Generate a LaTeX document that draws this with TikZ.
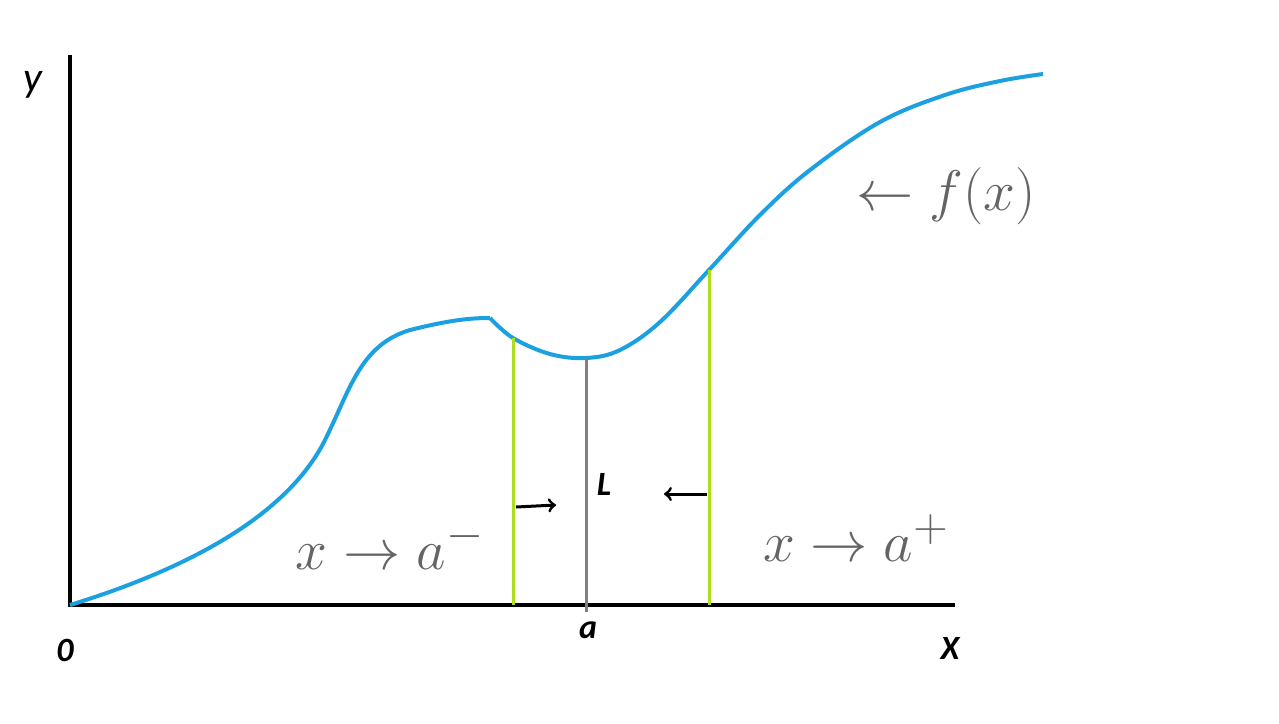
\documentclass[tikz,border=0pt]{standalone}
\usepackage{amsmath}
\usepackage{fontspec}
\newfontfamily\calibri{Carlito}
\usetikzlibrary{positioning}

\definecolor{curveblue}{RGB}{27,160,226}
\definecolor{limeline}{RGB}{172,222,30}
\definecolor{midgray}{RGB}{128,128,128}
\definecolor{labelgray}{RGB}{100,100,100}

\begin{document}
\begin{tikzpicture}[x=0.5pt,y=-0.5pt,
    axis/.style={line width=2pt,black},
    fcurve/.style={line width=2pt,curveblue},
    side/.style={line width=1.5pt,limeline},
    mid/.style={line width=1.5pt,midgray},
    axlabel/.style={font=\calibri\bfseries\itshape\fontsize{17}{20}\selectfont},
    mathlabel/.style={text=labelgray,font=\Huge,scale=1.15},
    hand/.style={->,line width=1.5pt}]
    \useasboundingbox (0,0) rectangle (1279,723);

    % axes
    \coordinate (O) at (70,605);
    \coordinate (x_end) at (955,605);
    \coordinate (y_top) at (70,55);
    \draw[axis] (y_top) -- (O) -- (x_end);

    % points on f
    \coordinate (p_left) at (513,338);
    \coordinate (p_a) at (586,358);
    \coordinate (p_right) at (709,270);
    \coordinate (kink) at (490,318);

    \draw[fcurve] (O) .. controls (200,565) and (290,510) .. (325,440)
        .. controls (350,390) and (360,345) .. (410,330)
        .. controls (450,320) and (470,318) .. (kink);
    \draw[fcurve] plot[smooth,tension=0.6] coordinates {(kink) (p_left) (550,354) (p_a) (620,350) (660,322) (p_right) (760,215) (810,170) (880,122) (945,95) (1000,81) (1043,74)};

    % limits from both sides
    \coordinate (b_left) at (513,605);
    \coordinate (b_a) at (586,612);
    \coordinate (b_right) at (709,605);
    \draw[side] (p_left) -- (b_left);
    \draw[side] (p_right) -- (b_right);
    \draw[mid] (p_a) -- (b_a);

    \coordinate (h_l1) at (516,507);
    \coordinate (h_l2) at (556,505);
    \coordinate (h_r1) at (707,494);
    \coordinate (h_r2) at (664,494);
    \draw[hand] (h_l1) -- (h_l2);
    \draw[hand] (h_r1) -- (h_r2);

    % labels
    \node[axlabel,font=\calibri\itshape\fontsize{21}{24}\selectfont] (y_lab) at (33,85) {y};
    \node[axlabel] (o_lab) at (65,650) {0};
    \node[axlabel] (a_lab) at (588,630) {a};
    \node[axlabel] (x_lab) at (950,648) {X};
    \node[axlabel] (L_lab) at (604,484) {L};
    \node[mathlabel] (minus_lab) at (390,545) {$x\to a^-$};
    \node[mathlabel] (plus_lab) at (856,538) {$x\to a^+$};
    \node[mathlabel] (f_lab) at (946,196) {$\leftarrow f(x)$};
\end{tikzpicture}
\end{document}
